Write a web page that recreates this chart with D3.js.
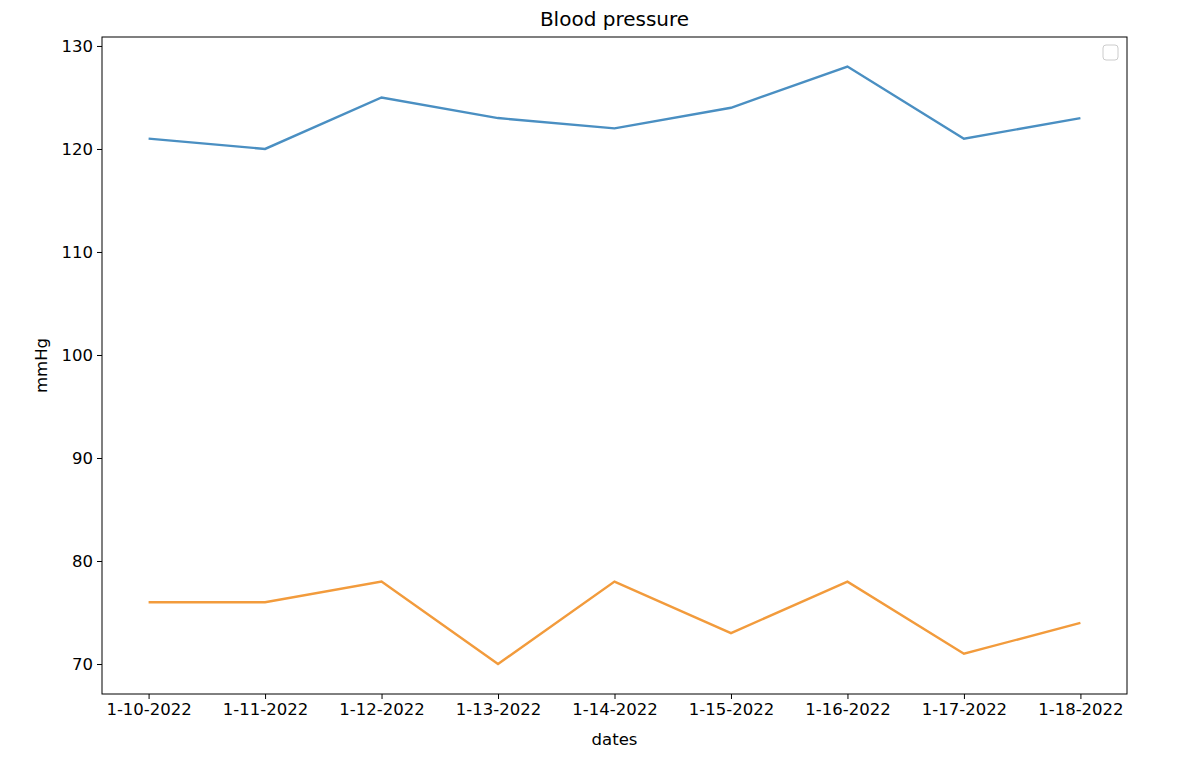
<!DOCTYPE html>
<html><head><meta charset="utf-8">
<script src="https://cdn.jsdelivr.net/npm/d3@7"></script>
<style>body{margin:0;background:#fff}svg{font-family:"DejaVu Sans",sans-serif}</style>
</head><body>
<svg id="c" width="1200" height="766"></svg>
<script>
var dates = ["1-10-2022","1-11-2022","1-12-2022","1-13-2022","1-14-2022","1-15-2022","1-16-2022","1-17-2022","1-18-2022"];
var systolic = [121,120,125,123,122,124,128,121,123];
var diastolic = [76,76,78,70,78,73,78,71,74];
var yTicks = [70,80,90,100,110,120,130];

var m = {l:102, r:1127, t:37, b:694};
var svg = d3.select("#c");
var x = d3.scaleLinear().domain([-0.4, dates.length - 0.6]).range([m.l, m.r]);
var y = d3.scaleLinear().domain([67.09, 130.87]).range([m.b, m.t]);

// axes
var xa = svg.append("g").attr("transform","translate(0,"+m.b+")")
  .call(d3.axisBottom(x).tickValues(d3.range(dates.length)).tickFormat(function(i){return dates[i];}).tickSize(5).tickPadding(4));
var ya = svg.append("g").attr("transform","translate("+m.l+",0)")
  .call(d3.axisLeft(y).tickValues(yTicks).tickSize(5).tickPadding(4));
[xa,ya].forEach(function(a){
  a.select(".domain").remove();
  a.selectAll("text").attr("font-size",16.5).attr("fill","#000").attr("font-family","DejaVu Sans");
  a.selectAll("line").attr("stroke","#000");
});
svg.append("rect").attr("x",m.l).attr("y",m.t).attr("width",m.r-m.l).attr("height",m.b-m.t)
  .attr("fill","none").attr("stroke","#000").attr("stroke-width",1);

var line = d3.line().x(function(d,i){return x(i);}).y(function(d){return y(d);});
svg.append("path").datum(systolic).attr("d",line).attr("fill","none").attr("stroke","#4a8fc2").attr("stroke-width",2.4);
svg.append("path").datum(diastolic).attr("d",line).attr("fill","none").attr("stroke","#f29b3c").attr("stroke-width",2.4);

svg.append("text").attr("x",(m.l+m.r)/2).attr("y",26).attr("text-anchor","middle").attr("font-size",20).text("Blood pressure");
svg.append("text").attr("x",(m.l+m.r)/2).attr("y",745).attr("text-anchor","middle").attr("font-size",16.5).text("dates");
svg.append("text").attr("transform","translate(47,"+((m.t+m.b)/2)+") rotate(-90)").attr("text-anchor","middle").attr("font-size",16.5).text("mmHg");

// empty legend box
svg.append("rect").attr("x",1103).attr("y",45).attr("width",15).attr("height",15).attr("rx",3)
  .attr("fill","#fff").attr("stroke","#ccc");
</script>
</body></html>
